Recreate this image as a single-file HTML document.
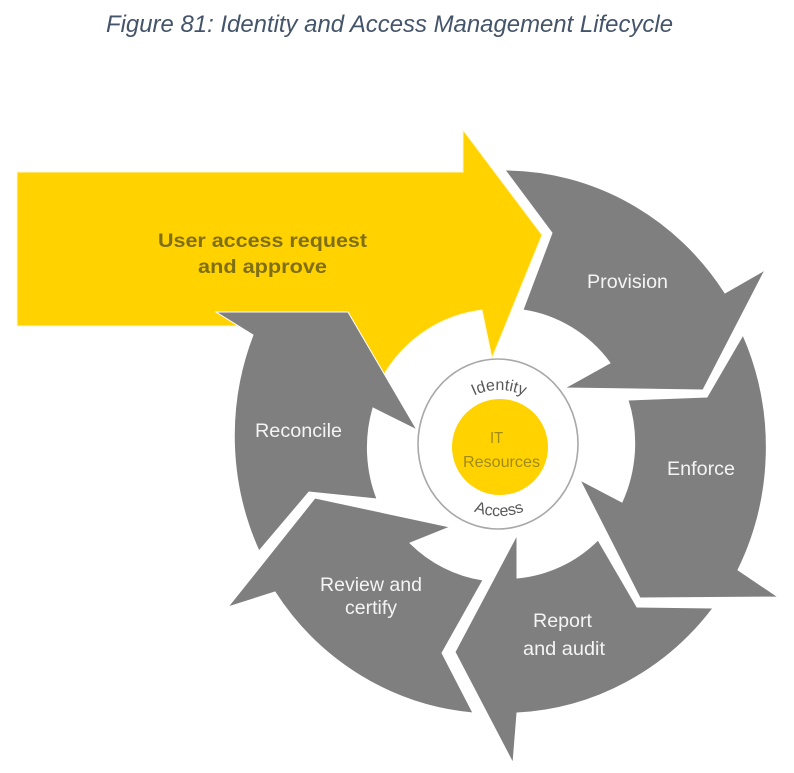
<!DOCTYPE html>
<html>
<head>
<meta charset="utf-8">
<style>
  html, body { margin:0; padding:0; background:#ffffff; }
  body { width:794px; height:773px; overflow:hidden; }
  svg { display:block; }
  .lbl { font-family:"Liberation Sans", Arial, sans-serif; fill:#f4f4f4; font-size:19.5px; }
</style>
</head>
<body>
<svg width="794" height="773" viewBox="0 0 794 773" xmlns="http://www.w3.org/2000/svg">
  <rect x="0" y="0" width="794" height="773" fill="#ffffff"/>

  <!-- Title -->
  <text x="106" y="32" font-family="Liberation Sans, Arial, sans-serif" font-style="italic" font-size="24" fill="#44546a" textLength="567" lengthAdjust="spacingAndGlyphs">Figure 81: Identity and Access Management Lifecycle</text>

  <!-- Yellow big arrow -->
  <path d="M17,172 L463,172 L463,130 L542,235 L492,358 L482,310 A133,138 0 0 0 383,376 L352,326 L17,326 Z" fill="#ffd200" stroke="#fff7cc" stroke-width="1"/>

  <!-- Gray ring arrows -->
  <g fill="#7f7f7f" stroke="#ffffff" stroke-width="1">
    <!-- Provision -->
    <path d="M505,170 A265,273 0 0 1 725,293 L765,270 L703,390 L565,388 L610,363 A133,138 0 0 0 523,310 L552,233 Z"/>
    <!-- Enforce -->
    <path d="M743,335 A265,273 0 0 1 738,570 L778,597 L640,598 L580,480 L622,502 A133,138 0 0 0 628,400 L707,397 Z"/>
    <!-- Report and audit -->
    <path d="M713,608 A265,273 0 0 1 517,713 L513,763 L455,652 L517,535 L517,578 A133,138 0 0 0 598,540 L637,607 Z"/>
    <!-- Review and certify -->
    <path d="M473,713 A265,273 0 0 1 275,592 L228,607 L315,498 L450,527 L410,543 A133,138 0 0 0 483,580 L442,653 Z"/>
    <!-- Reconcile -->
    <path d="M259,551 A265,273 0 0 1 253,335 L216,312 L348,312 L417,430 L373,408 A133,138 0 0 0 377,499 L309,492 Z"/>
  </g>

  <!-- Center circles -->
  <ellipse cx="498" cy="444" rx="80" ry="85" fill="#ffffff" stroke="#a8a8a8" stroke-width="1.6"/>
  <circle cx="500" cy="447" r="48" fill="#ffd200"/>

  <defs>
    <path id="arcTop" d="M449.6,418.5 A57,57 0 0 1 548.4,418.5"/>
    <path id="arcBot" d="M439.2,481.5 A69,69 0 0 0 558.8,481.5"/>
  </defs>
  <text font-family="Liberation Sans, Arial, sans-serif" font-size="16" fill="#595959">
    <textPath href="#arcTop" startOffset="50%" text-anchor="middle">Identity</textPath>
  </text>
  <text font-family="Liberation Sans, Arial, sans-serif" font-size="16" fill="#595959">
    <textPath href="#arcBot" startOffset="50%" text-anchor="middle">Access</textPath>
  </text>

  <!-- Center labels -->
  <text x="490" y="443" font-family="Liberation Sans, Arial, sans-serif" font-size="16" fill="#a08a1a" textLength="13" lengthAdjust="spacingAndGlyphs">IT</text>
  <text x="463" y="467" font-family="Liberation Sans, Arial, sans-serif" font-size="16" fill="#a08a1a" textLength="77" lengthAdjust="spacingAndGlyphs">Resources</text>

  <!-- Yellow arrow label -->
  <text x="158" y="247" font-family="Liberation Sans, Arial, sans-serif" font-weight="bold" font-size="19" fill="#7f6f14" textLength="209" lengthAdjust="spacingAndGlyphs">User access request</text>
  <text x="198" y="273" font-family="Liberation Sans, Arial, sans-serif" font-weight="bold" font-size="19" fill="#7f6f14" textLength="129" lengthAdjust="spacingAndGlyphs">and approve</text>

  <!-- Gray labels -->
  <text class="lbl" x="587" y="288" textLength="81" lengthAdjust="spacingAndGlyphs">Provision</text>
  <text class="lbl" x="667" y="475" textLength="68" lengthAdjust="spacingAndGlyphs">Enforce</text>
  <text class="lbl" x="533" y="627" textLength="59" lengthAdjust="spacingAndGlyphs">Report</text>
  <text class="lbl" x="523" y="655" textLength="82" lengthAdjust="spacingAndGlyphs">and audit</text>
  <text class="lbl" x="320" y="591" textLength="102" lengthAdjust="spacingAndGlyphs">Review and</text>
  <text class="lbl" x="345" y="614" textLength="52" lengthAdjust="spacingAndGlyphs">certify</text>
  <text class="lbl" x="255" y="437" textLength="87" lengthAdjust="spacingAndGlyphs">Reconcile</text>
</svg>
</body>
</html>
